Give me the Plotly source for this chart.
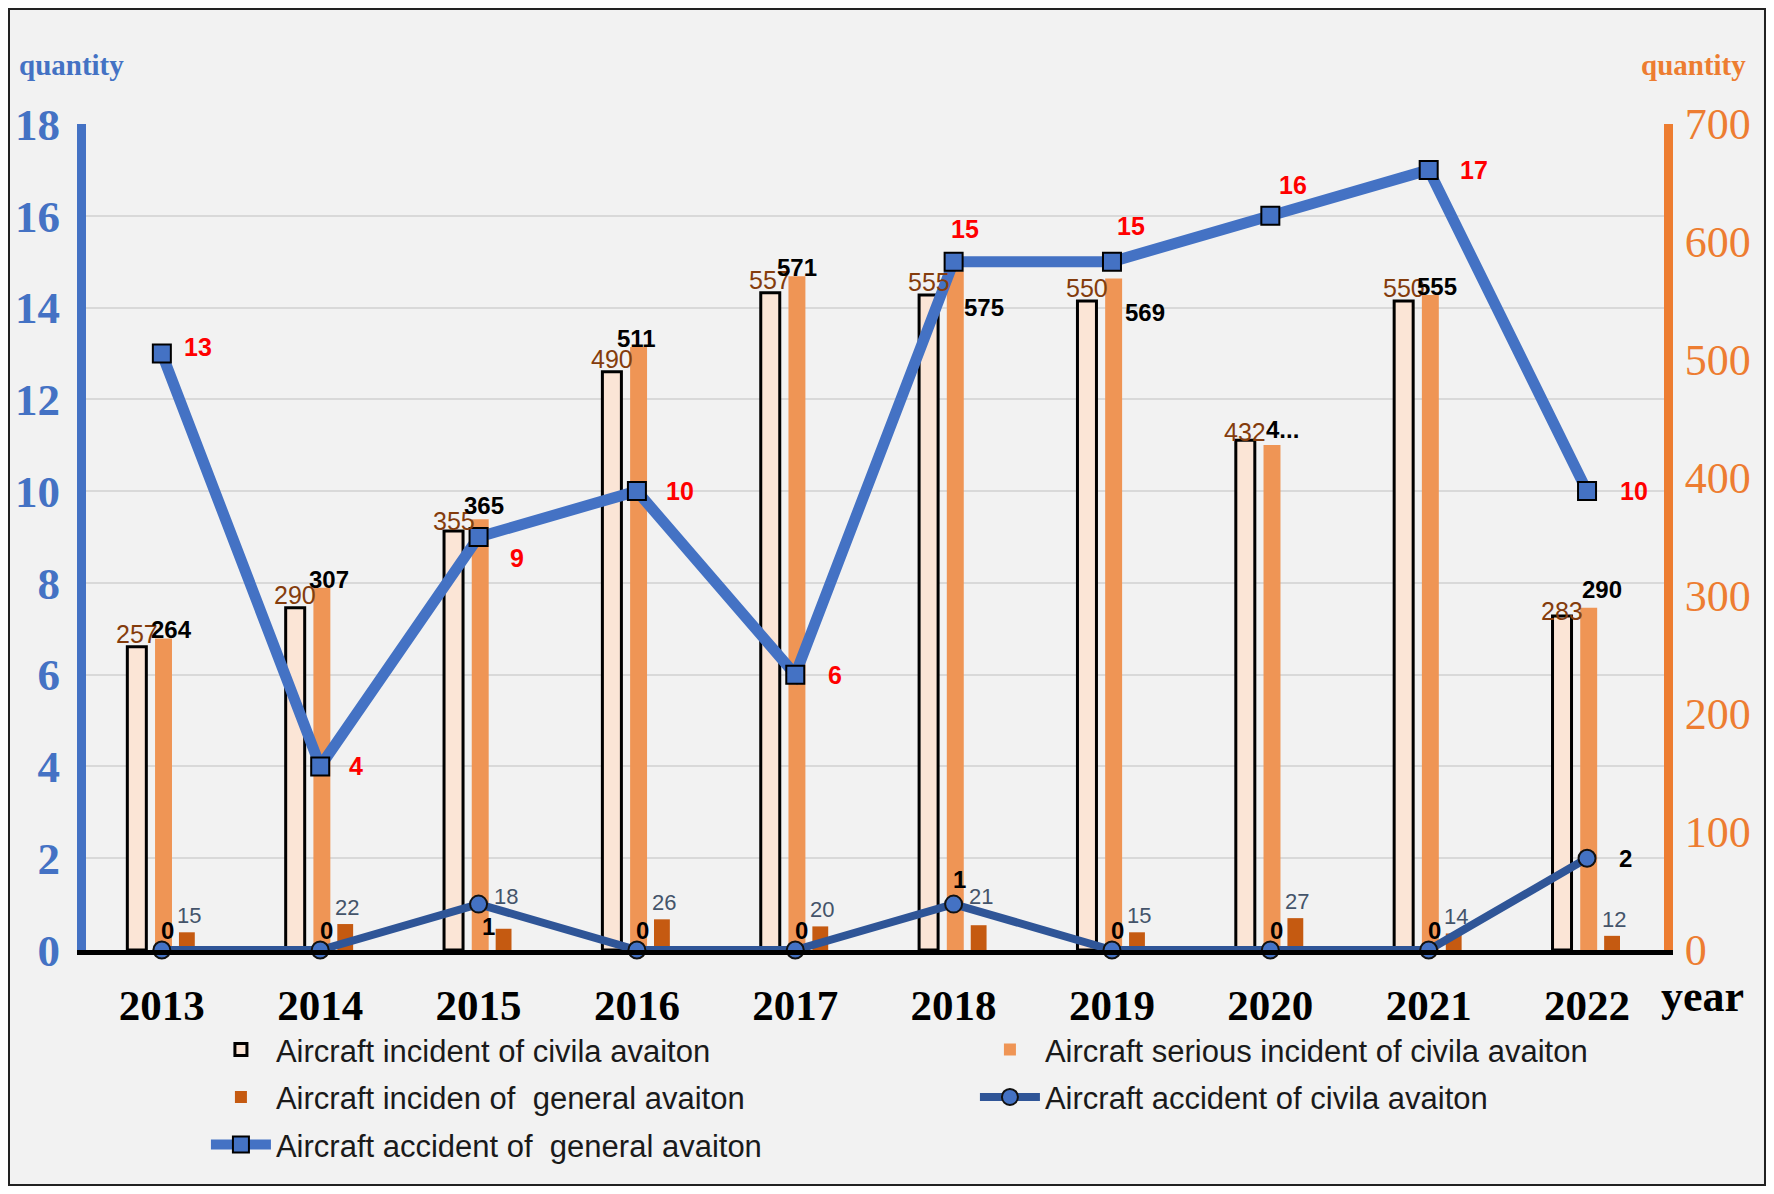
import plotly.graph_objects as go

years = ["2013", "2014", "2015", "2016", "2017", "2018", "2019", "2020", "2021", "2022"]
civil_incident = [257, 290, 355, 490, 557, 555, 550, 432, 550, 283]
serious_incident = [264, 307, 365, 511, 571, 575, 569, 428, 555, 290]
serious_labels = ["264", "307", "365", "511", "571", "575", "569", "4...", "555", "290"]
general_incident = [15, 22, 18, 26, 20, 21, 15, 27, 14, 12]
civil_accident = [0, 0, 1, 0, 0, 1, 0, 0, 0, 2]
general_accident = [13, 4, 9, 10, 6, 15, 15, 16, 17, 10]

names = [
    "Aircraft incident of civila avaiton",
    "Aircraft serious incident of civila avaiton",
    "Aircraft inciden of  general avaiton",
    "Aircraft accident of civila avaiton",
    "Aircraft accident of  general avaiton",
]

# label placement tweaks (pixels)
civil_shift = [(-25, -3), (-25, -3), (-25, -6), (-25, -3), (-25, -3), (-25, -3), (-25, -3), (-25, -8), (-25, -3), (-25, -11)]
serious_shift = [(10, -7), (9, -7), (5, -2), (0, -7), (2, -7), (30, -36), (33, -34), (12, 0), (8, -7), (15, 3)]
general_inc_shift = [(27, 2), (27, 2), (27, 18), (27, 2), (27, 2), (27, 14), (27, 2), (27, 2), (27, 2), (27, 2)]
civil_acc_shift = [(6, 20), (6, 20), (10, -22), (6, 20), (6, 20), (6, 25), (6, 20), (6, 20), (6, 20), (38, 0)]
general_acc_shift = [(36, 6), (36, 0), (38, -21), (43, 0), (40, 0), (11, 33), (19, 36), (23, 31), (45, 0), (47, 0)]

LBL = "Liberation Sans"
SERIF = "Liberation Serif"

fig = go.Figure()
fig.add_trace(go.Bar(
    x=years, y=civil_incident, name=names[0], yaxis="y", legend="legend",
    width=0.12, offset=-0.218,
    marker=dict(color="#FBE5D6", line=dict(color="#000000", width=3)),
))
fig.add_trace(go.Bar(
    x=years, y=serious_incident, name=names[1], yaxis="y", legend="legend",
    width=0.107, offset=-0.043,
    marker=dict(color="#EF9555", line=dict(width=0)),
))
fig.add_trace(go.Bar(
    x=years, y=general_incident, name=names[2], yaxis="y", legend="legend2",
    width=0.1, offset=0.108,
    marker=dict(color="#C55A11", line=dict(width=0)),
))
fig.add_trace(go.Scatter(
    x=years, y=civil_accident, name=names[3], yaxis="y2", mode="lines+markers", legend="legend2",
    line=dict(color="#2F5597", width=8),
    marker=dict(symbol="circle", size=17, color="#4472C4", line=dict(color="#111111", width=2)),
    cliponaxis=False,
))
fig.add_trace(go.Scatter(
    x=years, y=general_accident, name=names[4], yaxis="y2", mode="lines+markers", legend="legend3",
    line=dict(color="#4472C4", width=11),
    marker=dict(symbol="square", size=18, color="#4472C4", line=dict(color="#000000", width=2)),
    cliponaxis=False,
))

ann = []
for i, yr in enumerate(years):
    vx, vy = civil_shift[i]
    ann.append(dict(x=i, y=civil_incident[i], xref="x", yref="y", text=str(civil_incident[i]),
                    showarrow=False, xanchor="center", yanchor="bottom", xshift=vx, yshift=vy,
                    font=dict(family=LBL, size=25, color="#843C0C")))
    sx, sy = serious_shift[i]
    ann.append(dict(x=i, y=serious_incident[i], xref="x", yref="y", text=serious_labels[i],
                    showarrow=False, xanchor="center", yanchor="bottom" if sy > -20 else "middle",
                    xshift=sx, yshift=sy,
                    font=dict(family=LBL, size=24, color="#000000", weight="bold")))
    gx, gy = general_inc_shift[i]
    ann.append(dict(x=i, y=general_incident[i], xref="x", yref="y", text=str(general_incident[i]),
                    showarrow=False, xanchor="center", yanchor="bottom", xshift=gx, yshift=gy,
                    font=dict(family=LBL, size=22, color="#44546A")))
    cx, cy = civil_acc_shift[i]
    ann.append(dict(x=i, y=civil_accident[i], xref="x", yref="y2", text=str(civil_accident[i]),
                    showarrow=False, xanchor="center", yanchor="middle", xshift=cx, yshift=cy,
                    font=dict(family=LBL, size=24, color="#000000", weight="bold")))
    ax, ay = general_acc_shift[i]
    ann.append(dict(x=i, y=general_accident[i], xref="x", yref="y2", text=str(general_accident[i]),
                    showarrow=False, xanchor="center", yanchor="middle", xshift=ax, yshift=ay,
                    font=dict(family=LBL, size=25, color="#FF0000", weight="bold")))

ann.append(dict(x=-0.0437, y=1.071, xref="paper", yref="paper", text="quantity", showarrow=False,
                xanchor="left", yanchor="middle",
                font=dict(family=SERIF, size=29, color="#4472C4", weight="bold")))
ann.append(dict(x=1.0532, y=1.071, xref="paper", yref="paper", text="quantity", showarrow=False,
                xanchor="right", yanchor="middle",
                font=dict(family=SERIF, size=29, color="#ED7D31", weight="bold")))
ann.append(dict(x=1.0247, y=-0.0557, xref="paper", yref="paper", text="year", showarrow=False,
                xanchor="center", yanchor="middle",
                font=dict(family=SERIF, size=44, color="#000000", weight="bold")))

legend_common = dict(orientation="h", x=0.076, xanchor="left", yanchor="middle",
                     entrywidth=694, entrywidthmode="pixels", itemwidth=60,
                     font=dict(family=LBL, size=31, color="#1A1A1A"), bgcolor="rgba(0,0,0,0)",
                     traceorder="normal")

fig.update_layout(
    template="none",
    width=1758, height=1178,
    margin=dict(l=78, r=102, t=116, b=236),
    paper_bgcolor="#F2F2F2", plot_bgcolor="#F2F2F2",
    barmode="overlay",
    showlegend=True,
    legend=dict(legend_common, y=-0.1208),
    legend2=dict(legend_common, y=-0.1783),
    legend3=dict(legend_common, y=-0.2358),
    xaxis=dict(type="category", range=[-0.479, 9.486], showgrid=False, showline=True,
               linecolor="#000000", linewidth=5, ticks="", automargin=False,
               tickfont=dict(family=SERIF, size=43, color="#000000", weight="bold"),
               ticklabelstandoff=13),
    yaxis=dict(side="right", range=[0, 700], dtick=100, showgrid=False, zeroline=False,
               showline=True, linecolor="#ED7D31", linewidth=9, ticks="", automargin=False,
               tickfont=dict(family=SERIF, size=44, color="#ED7D31"), ticklabelstandoff=3),
    yaxis2=dict(side="left", overlaying="y", range=[0, 18], dtick=2, showgrid=True,
                gridcolor="#D9D9D9", gridwidth=1.5, zeroline=False,
                showline=True, linecolor="#4472C4", linewidth=9, ticks="", automargin=False,
                tickfont=dict(family=SERIF, size=45, color="#4472C4", weight="bold"),
                ticklabelstandoff=8),
    annotations=ann,
    shapes=[dict(type="rect", xref="paper", yref="paper", x0=-0.0488, x1=1.064, y0=-0.2845, y1=1.1392,
                 line=dict(color="#222222", width=2), fillcolor="rgba(0,0,0,0)", layer="above")],
)

fig.write_html("out.html")
